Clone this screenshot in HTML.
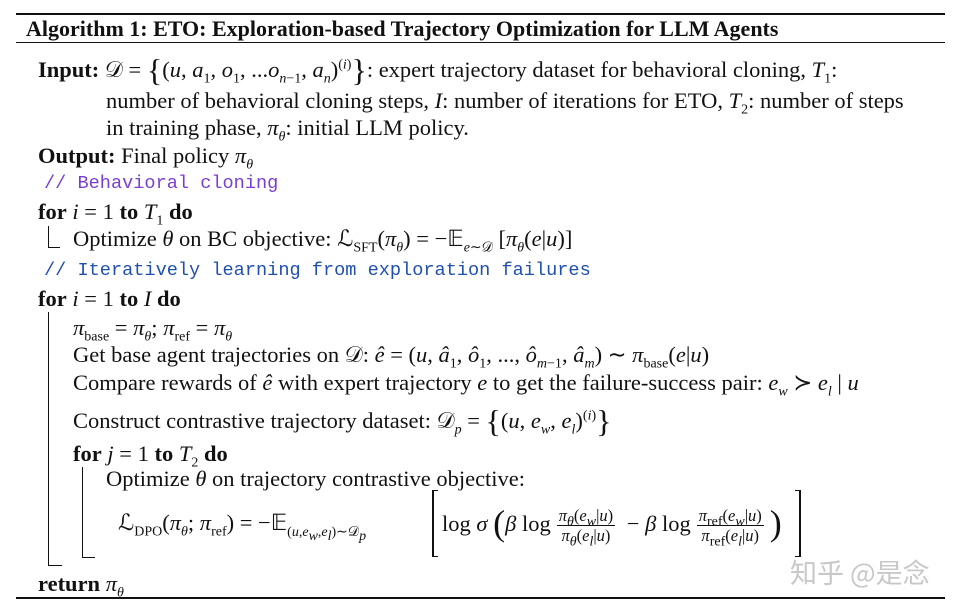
<!DOCTYPE html>
<html><head><meta charset="utf-8"><style>
body{margin:0;width:968px;height:612px;background:#fff;position:relative;overflow:hidden;font-family:"Liberation Serif",serif;color:#111;}
.l{position:absolute;font-size:22.5px;line-height:24px;white-space:nowrap;}
.c{font-family:"Liberation Mono",monospace;font-size:18.6px;}
i{font-style:italic}
b{font-weight:bold}
.r{position:absolute;background:#111;}
sub,sup{font-size:14px;line-height:0}
.big{font-size:32px;vertical-align:-4px}
.fr{display:inline-block;vertical-align:middle;text-align:center;font-size:16.5px;line-height:19px;margin:0 6px}
.fr span{display:block;padding:0 2px}
.fr .d{border-top:1px solid #111}
</style></head><body>
<div class="r" style="left:16px;top:13px;width:929px;height:2px"></div>
<div class="l" style="left:26px;top:17px;font-size:22px"><b>Algorithm 1: ETO: Exploration-based Trajectory Optimization for LLM Agents</b></div>
<div class="r" style="left:16px;top:42px;width:929px;height:1px"></div>
<div class="l" style="left:38px;top:58px"><b>Input:</b> 𝒟 = <span class="big">{</span>(<i>u</i>, <i>a</i><sub>1</sub>, <i>o</i><sub>1</sub>, ...<i>o</i><sub><i>n</i>−1</sub>, <i>a<sub>n</sub></i>)<sup>(<i>i</i>)</sup><span class="big">}</span>: expert trajectory dataset for behavioral cloning, <i>T</i><sub>1</sub>:</div>
<div class="l" style="left:106px;top:89px">number of behavioral cloning steps, <i>I</i>: number of iterations for ETO, <i>T</i><sub>2</sub>: number of steps</div>
<div class="l" style="left:106px;top:116px">in training phase, <i>π<sub>θ</sub></i>: initial LLM policy.</div>
<div class="l" style="left:38px;top:144px"><b>Output:</b> Final policy <i>π<sub>θ</sub></i></div>
<div class="l c" style="left:44px;top:172px;color:#7a3fd0">// Behavioral cloning</div>
<div class="l" style="left:38px;top:200px"><b>for</b> <i>i</i> = 1 <b>to</b> <i>T</i><sub>1</sub> <b>do</b></div>
<div class="r" style="left:48px;top:226px;width:1px;height:22px"></div>
<div class="r" style="left:48px;top:247px;width:12px;height:1px"></div>
<div class="l" style="left:73px;top:227px">Optimize <i>θ</i> on BC objective: ℒ<sub>SFT</sub>(<i>π<sub>θ</sub></i>) = −𝔼<sub><i>e</i>∼𝒟</sub> [<i>π<sub>θ</sub></i>(<i>e</i>|<i>u</i>)]</div>
<div class="l c" style="left:44px;top:259px;color:#1f4fb0">// Iteratively learning from exploration failures</div>
<div class="l" style="left:38px;top:287px"><b>for</b> <i>i</i> = 1 <b>to</b> <i>I</i> <b>do</b></div>
<div class="r" style="left:48px;top:312px;width:1px;height:254px"></div>
<div class="r" style="left:48px;top:565px;width:14px;height:1px"></div>
<div class="l" style="left:73px;top:316px"><i>π</i><sub>base</sub> = <i>π<sub>θ</sub></i>; <i>π</i><sub>ref</sub> = <i>π<sub>θ</sub></i></div>
<div class="l" style="left:73px;top:343px">Get base agent trajectories on 𝒟: <i>ê</i> = (<i>u</i>, <i>â</i><sub>1</sub>, <i>ô</i><sub>1</sub>, ..., <i>ô</i><sub><i>m</i>−1</sub>, <i>â<sub>m</sub></i>) ∼ <i>π</i><sub>base</sub>(<i>e</i>|<i>u</i>)</div>
<div class="l" style="left:73px;top:371px">Compare rewards of <i>ê</i> with expert trajectory <i>e</i> to get the failure-success pair: <i>e<sub>w</sub></i> ≻ <i>e<sub>l</sub></i> | <i>u</i></div>
<div class="l" style="left:73px;top:409px">Construct contrastive trajectory dataset: 𝒟<sub><i>p</i></sub> = <span class="big">{</span>(<i>u</i>, <i>e<sub>w</sub></i>, <i>e<sub>l</sub></i>)<sup>(<i>i</i>)</sup><span class="big">}</span></div>
<div class="l" style="left:73px;top:442px"><b>for</b> <i>j</i> = 1 <b>to</b> <i>T</i><sub>2</sub> <b>do</b></div>
<div class="r" style="left:82px;top:467px;width:1px;height:91px"></div>
<div class="r" style="left:82px;top:557px;width:13px;height:1px"></div>
<div class="l" style="left:106px;top:467px">Optimize <i>θ</i> on trajectory contrastive objective:</div>
<div class="l" style="left:118px;top:511px">ℒ<sub>DPO</sub>(<i>π<sub>θ</sub></i>; <i>π</i><sub>ref</sub>) = −𝔼<sub>(<i>u</i>,<i>e<sub>w</sub></i>,<i>e<sub>l</sub></i>)∼𝒟<sub><i>p</i></sub></sub></div>
<div class="r" style="left:432px;top:490px;width:2px;height:67px"></div>
<div class="r" style="left:432px;top:490px;width:6px;height:1px"></div>
<div class="r" style="left:432px;top:556px;width:6px;height:1px"></div>
<div class="l" style="left:442px;top:505px;line-height:36px">log <i>σ</i> <span style="font-size:36px;vertical-align:-4px">(</span><i>β</i> log<span class="fr"><span><i>π<sub>θ</sub></i>(<i>e<sub>w</sub></i>|<i>u</i>)</span><span class="d"><i>π<sub>θ</sub></i>(<i>e<sub>l</sub></i>|<i>u</i>)</span></span> − <i>β</i> log<span class="fr"><span><i>π</i><sub>ref</sub>(<i>e<sub>w</sub></i>|<i>u</i>)</span><span class="d"><i>π</i><sub>ref</sub>(<i>e<sub>l</sub></i>|<i>u</i>)</span></span><span style="font-size:36px;vertical-align:-4px">)</span></div>
<div class="r" style="left:799px;top:490px;width:2px;height:67px"></div>
<div class="r" style="left:795px;top:490px;width:6px;height:1px"></div>
<div class="r" style="left:795px;top:556px;width:6px;height:1px"></div>
<div class="l" style="left:38px;top:572px"><b>return</b> <i>π<sub>θ</sub></i></div>
<div class="l" style="left:790px;top:556px;font-family:'Noto Sans CJK SC',sans-serif;font-size:27px;line-height:32px;color:#c8c8c8">知乎 @是念</div>
<div class="r" style="left:16px;top:597px;width:929px;height:2px"></div>
</body></html>
